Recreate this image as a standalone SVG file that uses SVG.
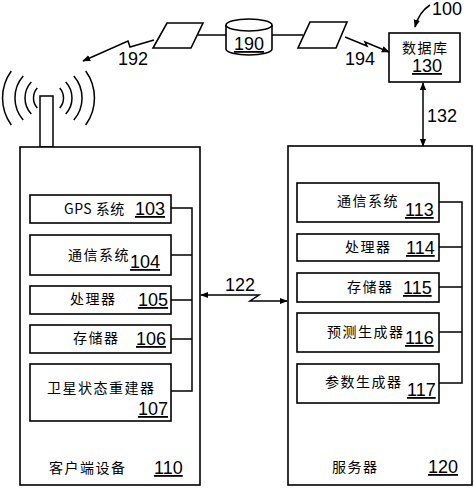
<svg xmlns="http://www.w3.org/2000/svg" width="474" height="489" viewBox="0 0 474 489">
<defs>
<style>
.b{fill:#fff;stroke:#000;stroke-width:1.6}
.l{fill:none;stroke:#000;stroke-width:1.5}
.cn{font-family:"Noto Sans CJK SC","Noto Sans",sans-serif;font-size:14px;letter-spacing:1.5px;fill:#000}
.n{font-family:"Liberation Sans","DejaVu Sans",sans-serif;font-size:18px;fill:#000}
.u{text-decoration:underline}
</style>
<marker id="ah" viewBox="0 0 10 10" refX="9" refY="5" markerWidth="8" markerHeight="8" markerUnits="userSpaceOnUse" orient="auto-start-reverse">
<path d="M0,1 L10,5 L0,9 Z" fill="#000"/>
</marker>
</defs>
<rect width="474" height="489" fill="#fff"/>

<g id="antenna">
<rect class="l" x="40" y="96" width="13" height="51"/>
<path class="l" d="M37.3,88 A15,15 0 0 0 37.3,108 M31.3,82 A23.5,23.5 0 0 0 31.3,114 M23.2,76 A33.5,33.5 0 0 0 23.2,120 M11.3,71 A46,46 0 0 0 11.3,125"/>
<path class="l" d="M59.7,88 A15,15 0 0 1 59.7,108 M65.7,82 A23.5,23.5 0 0 1 65.7,114 M73.8,76 A33.5,33.5 0 0 1 73.8,120 M85.7,71 A46,46 0 0 1 85.7,125"/>
</g>

<g id="client">
<rect class="b" x="20" y="147" width="180" height="338"/>
<text class="cn" x="49" y="473">客户端设备</text>
<text class="n u" x="154" y="474">110</text>
</g>
<g id="n103">
<rect class="b" x="30" y="195" width="141" height="28"/>
<text class="cn" x="64" y="214" style="letter-spacing:0.5px">GPS 系统</text>
<text class="n u" x="135" y="215">103</text>
</g>
<g id="n104">
<rect class="b" x="30" y="235" width="141" height="40"/>
<text class="cn" x="68" y="260">通信系统</text>
<text class="n u" x="130" y="268">104</text>
</g>
<g id="n105">
<rect class="b" x="30" y="286" width="141" height="28"/>
<text class="cn" x="70" y="304">处理器</text>
<text class="n u" x="138" y="306">105</text>
</g>
<g id="n106">
<rect class="b" x="30" y="325" width="141" height="28"/>
<text class="cn" x="73" y="343">存储器</text>
<text class="n u" x="136" y="345">106</text>
</g>
<g id="n107">
<rect class="b" x="30" y="364" width="141" height="57"/>
<text class="cn" x="47" y="393">卫星状态重建器</text>
<text class="n u" x="138" y="415">107</text>
</g>

<g id="server">
<rect class="b" x="288" y="146" width="184" height="339"/>
<text class="cn" x="332" y="472">服务器</text>
<text class="n u" x="428" y="473">120</text>
</g>
<g id="n113">
<rect class="b" x="297" y="183" width="142" height="39"/>
<text class="cn" x="337" y="206">通信系统</text>
<text class="n u" x="405" y="216">113</text>
</g>
<g id="n114">
<rect class="b" x="297" y="234" width="142" height="27"/>
<text class="cn" x="345" y="252">处理器</text>
<text class="n u" x="406" y="254">114</text>
</g>
<g id="n115">
<rect class="b" x="297" y="273" width="142" height="29"/>
<text class="cn" x="347" y="292">存储器</text>
<text class="n u" x="403" y="294">115</text>
</g>
<g id="n116">
<rect class="b" x="297" y="313" width="142" height="39"/>
<text class="cn" x="327" y="337">预测生成器</text>
<text class="n u" x="405" y="344">116</text>
</g>
<g id="n117">
<rect class="b" x="297" y="364" width="142" height="39"/>
<text class="cn" x="325" y="387">参数生成器</text>
<text class="n u" x="407" y="396">117</text>
</g>

<g id="database">
<rect class="b" x="389" y="33" width="71" height="49"/>
<text class="cn" x="402" y="53">数据库</text>
<text class="n u" x="412" y="72">130</text>
</g>

<g id="store190">
<path class="b" d="M226,25 L226,49 A23,6 0 0 0 272,49 L272,25"/>
<ellipse class="b" cx="249" cy="25" rx="23" ry="6"/>
<text class="n u" x="249" y="50" text-anchor="middle">190</text>
</g>
<g id="para1">
<path class="b" d="M167,23 L203,23 L191,48 L153,48 Z"/>
</g>
<g id="para2">
<path class="b" d="M310,22 L347,22 L336,48 L298,48 Z"/>
</g>

<g id="connectors">
<path class="l" d="M198,35 L226,35"/>
<path class="l" d="M272,35 L303,35"/>
<path class="l" marker-end="url(#ah)" d="M154,40 L130,47 L128,41 L83,61"/>
<path class="l" marker-end="url(#ah)" d="M345,37 L367,46 L365,42 L389,52"/>
<path class="l" marker-start="url(#ah)" marker-end="url(#ah)" d="M423,83 L423,146"/>
<path class="l" marker-end="url(#ah)" d="M430,5 Q419,12 415,27"/>
<path class="l" marker-start="url(#ah)" marker-end="url(#ah)" d="M201,295 L259,295 L250,301 L287,301"/>
<path class="l" d="M171,208 L192,208 L192,391 L171,391 M171,255 L192,255 M171,300 L192,300 M171,339 L192,339"/>
<path class="l" d="M439,202 L462,202 L462,383 L439,383 M439,247 L462,247 M439,287 L462,287 M439,332 L462,332"/>
<text class="n" x="118" y="65">192</text>
<text class="n" x="345" y="65">194</text>
<text class="n" x="432" y="15">100</text>
<text class="n" x="427" y="122">132</text>
<text class="n" x="225" y="291">122</text>
</g>
</svg>
